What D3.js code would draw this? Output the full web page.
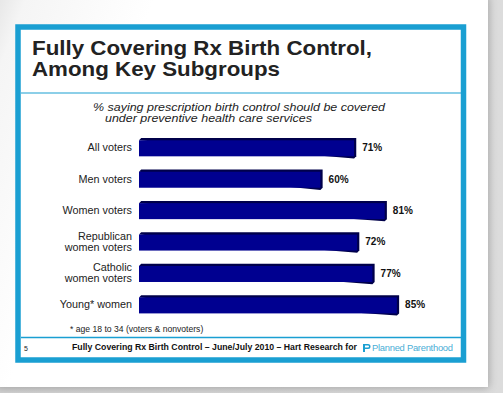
<!DOCTYPE html>
<html><head><meta charset="utf-8">
<script src="https://cdn.jsdelivr.net/npm/d3@7"></script>
<style>html,body{margin:0;padding:0;background:#d4d4d4;}svg{display:block;}</style>
</head><body>
<script>
const categories = [["All voters"],["Men voters"],["Women voters"],["Republican","women voters"],["Catholic","women voters"],["Young* women"]];
const values = [71,60,81,72,77,85];
const valueLabels = ["71%","60%","81%","72%","77%","85%"];
const titleLines = ["Fully Covering Rx Birth Control,","Among Key Subgroups"];
const subtitleLines = ["% saying prescription birth control should be covered","under preventive health care services"];
const footnote = "* age 18 to 34 (voters & nonvoters)";
const footerText = "Fully Covering Rx Birth Control \u2013 June/July 2010 \u2013 Hart Research for";

const W=503,H=393;
const svg=d3.select("body").append("svg").attr("width",W).attr("height",H);
const defs=svg.append("defs");
const bgGrad=defs.append("linearGradient").attr("id","bgG").attr("x1",0).attr("x2",1).attr("y1",0).attr("y2",0);
bgGrad.append("stop").attr("offset",0).attr("stop-color","#d2d2d2");
bgGrad.append("stop").attr("offset",1).attr("stop-color","#dcdcdc");
svg.append("rect").attr("width",W).attr("height",H).attr("fill","url(#bgG)");
const pg=defs.append("linearGradient").attr("id","paperG").attr("x1",0).attr("x2",1).attr("y1",0).attr("y2",0.3);
pg.append("stop").attr("offset",0).attr("stop-color","#e4e4e4");
pg.append("stop").attr("offset",0.06).attr("stop-color","#f5f5f5");
pg.append("stop").attr("offset",0.3).attr("stop-color","#ffffff");
pg.append("stop").attr("offset",1).attr("stop-color","#ffffff");
const sh=defs.append("filter").attr("id","sh").attr("x","-5%").attr("y","-5%").attr("width","115%").attr("height","115%");
sh.append("feGaussianBlur").attr("in","SourceAlpha").attr("stdDeviation",4);
sh.append("feOffset").attr("dx",1).attr("dy",1).attr("result","b");
sh.append("feComponentTransfer").attr("in","b").attr("result","c").append("feFuncA").attr("type","linear").attr("slope",0.25);
const fm=sh.append("feMerge");fm.append("feMergeNode").attr("in","c");fm.append("feMergeNode").attr("in","SourceGraphic");
svg.append("rect").attr("x",-5).attr("y",-5).attr("width",493).attr("height",392).attr("fill","url(#paperG)").attr("filter","url(#sh)");

const blue="#1a9fd2";
svg.append("rect").attr("x",18).attr("y",27).attr("width",445.5).attr("height",333).attr("fill","#fff").attr("stroke",blue).attr("stroke-width",5.5);
svg.append("line").attr("x1",21).attr("x2",461).attr("y1",93).attr("y2",93).attr("stroke",blue).attr("stroke-width",1.2);
svg.append("line").attr("x1",21).attr("x2",461).attr("y1",337.5).attr("y2",337.5).attr("stroke",blue).attr("stroke-width",1.5);

const font="Liberation Sans, Arial, sans-serif";
const titleW=[340,248];
svg.append("g").selectAll("text").data(titleLines).join("text")
 .attr("x",32).attr("y",(d,i)=>55+i*21).attr("font-family",font).attr("font-weight","bold")
 .attr("font-size",21).attr("fill","#222").attr("textLength",(d,i)=>titleW[i]).attr("lengthAdjust","spacingAndGlyphs").text(d=>d);
const subW=[292,207];
svg.append("g").selectAll("text").data(subtitleLines).join("text")
 .attr("x",(d,i)=>i?105:93).attr("y",(d,i)=>111+i*11).attr("font-family",font).attr("font-style","italic")
 .attr("font-size",11).attr("fill","#222").attr("textLength",(d,i)=>subW[i]).attr("lengthAdjust","spacingAndGlyphs").text(d=>d);

const x=d3.scaleLinear().domain([0,100]).range([139,445]);
const y=d3.scaleBand().domain(d3.range(categories.length)).range([131.5,320]).paddingInner(0.42).paddingOuter(0.21);
const bh=y.bandwidth(), dp=2.2;
const g=svg.append("g");
const bars=g.selectAll("g.bar").data(values).join("g");
bars.append("path").attr("fill","#00004a").attr("d",(d,i)=>{
 const x0=x(0),x1=x(d)-dp,y0=y(i)+dp;
 return `M${x0},${y0} L${x0+dp},${y0-dp} L${x1+dp},${y0-dp} L${x1+dp},${y0+bh-dp} L${x1},${y0+bh} Z`;});
bars.append("rect").attr("x",x(0)).attr("y",(d,i)=>y(i)+dp).attr("width",d=>x(d)-dp-x(0)).attr("height",bh-dp).attr("fill","#000090");
bars.append("text").attr("x",d=>x(d)+6).attr("y",(d,i)=>y(i)+bh/2+4).attr("font-family",font).attr("font-weight","bold")
 .attr("font-size",10).attr("fill","#111").text((d,i)=>valueLabels[i]);

const cl=g.selectAll("text.cat").data(categories).join("text").attr("class","cat")
 .attr("font-family",font).attr("font-size",10.8).attr("fill","#222").attr("text-anchor","end");
cl.each(function(lines,i){
 const t=d3.select(this), c=y(i)+bh/2;
 lines.forEach((l,k)=>{t.append("tspan").attr("x",132).attr("y",c+4+(k-(lines.length-1)/2)*11.2).text(l);});
});

svg.append("text").attr("x",70).attr("y",332).attr("font-family",font).attr("font-size",8.6).attr("fill","#222").text(footnote);
svg.append("text").attr("x",24).attr("y",350.5).attr("font-family",font).attr("font-size",7).attr("fill","#222").text("5");
svg.append("text").attr("x",72).attr("y",350).attr("font-family",font).attr("font-weight","bold").attr("font-size",8.6).attr("fill","#111")
 .attr("textLength",285).attr("lengthAdjust","spacingAndGlyphs").text(footerText);
svg.append("path").attr("d","M363,344 h5 a2.5,2.5 0 0 1 0,5 h-3 v3 h-2 Z M365,345.5 v2 h3 a1,1 0 0 0 0,-2 Z").attr("fill",blue).attr("fill-rule","evenodd");
svg.append("text").attr("x",372).attr("y",350.5).attr("font-family",font).attr("font-size",9.4).attr("fill","#4aaed6").attr("textLength",81).text("Planned Parenthood");
</script>
</body></html>
